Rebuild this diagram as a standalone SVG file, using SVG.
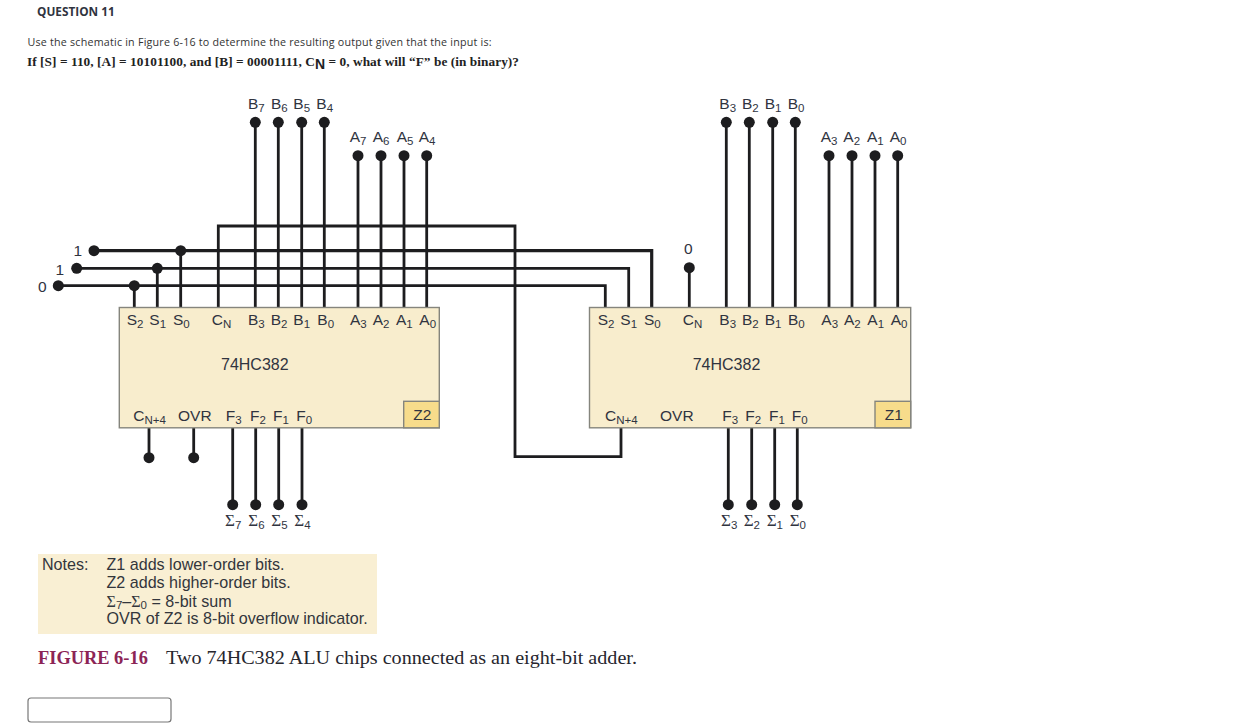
<svg xmlns="http://www.w3.org/2000/svg" width="1234" height="728" viewBox="0 0 1234 728">
<style>
text{font-family:"Liberation Sans",Arial,sans-serif;fill:#30343f}
.l{font-size:15.5px}
.s{font-size:11.5px}
.g{font-family:"Liberation Serif",serif;font-size:17px}
.w{fill:none;stroke:#1d1d1f;stroke-width:2.8}
.chip{fill:#f8edcd;stroke:#85857d;stroke-width:1.4}
.z{fill:#f7dc8b;stroke:#85857d;stroke-width:1.4}
.d{fill:#1d1d1f}
.n{font-size:16.1px;fill:#33363c}
</style>
<rect width="1234" height="728" fill="#fff"/>
<text x="37" y="16" style="font-family:'Open Sans',sans-serif;font-weight:700;font-size:11.8px" fill="#333">QUESTION 11</text>
<text x="27.5" y="46" textLength="464" style="font-family:'Open Sans',sans-serif;font-size:10.7px;fill:#333">Use the schematic in Figure 6-16 to determine the resulting output given that the input is:</text>
<text x="27" y="66" textLength="492" style="font-family:'Liberation Serif',serif;font-weight:700;font-size:13.3px;fill:#222">If [S] = 110, [A] = 10101100, and [B] = 00001111, C<tspan style="font-family:'Liberation Sans',sans-serif;font-size:14px" dy="3">N</tspan><tspan dy="-3"> = 0, what will “F” be (in binary)?</tspan></text>

<g id="connectors" class="w">
<path d="M255.3 122V307M278.3 122V307M301.7 122V307M324.3 122V307"/>
<path d="M358 156V307M381 156V307M404 156V307M426.7 156V307"/>
<path d="M726.3 122V307M749.3 122V307M772.7 122V307M795.3 122V307"/>
<path d="M829 156V307M852 156V307M875 156V307M897.7 156V307"/>
<path d="M689.3 268V307"/>
<path d="M94 250.7H651.7V307" style="stroke-width:3.2"/>
<path d="M76.7 268.3H628.7V307"/>
<path d="M58.3 285.7H605.3V307"/>
<path d="M134.3 285.7V307M157.3 268.3V307M180.7 250.7V307"/>
<path d="M218.3 307V226H515V456.7H621V428"/>
<path d="M149 428V457.7M193.7 428V457.7"/>
<path d="M232.7 428V504.7M255.7 428V504.7M278.7 428V504.7M302 428V504.7"/>
<path d="M728.3 428V504.7M751.7 428V504.7M774.7 428V504.7M797.3 428V504.7"/>
</g>

<g id="chip-z2">
<rect class="chip" x="119.3" y="307.5" width="320" height="120.3"/>
<rect class="z" x="403.7" y="401.3" width="35.6" height="26.5"/>
<text class="l" x="126.7" y="325">S<tspan class="s" dy="3">2</tspan></text>
<text class="l" x="149.3" y="325">S<tspan class="s" dy="3">1</tspan></text>
<text class="l" x="173" y="325">S<tspan class="s" dy="3">0</tspan></text>
<text class="l" x="211.7" y="325">C<tspan class="s" dy="3">N</tspan></text>
<text class="l" x="248" y="325">B<tspan class="s" dy="3">3</tspan></text>
<text class="l" x="270.7" y="325">B<tspan class="s" dy="3">2</tspan></text>
<text class="l" x="293.3" y="325">B<tspan class="s" dy="3">1</tspan></text>
<text class="l" x="317.3" y="325">B<tspan class="s" dy="3">0</tspan></text>
<text class="l" x="350" y="325">A<tspan class="s" dy="3">3</tspan></text>
<text class="l" x="372.7" y="325">A<tspan class="s" dy="3">2</tspan></text>
<text class="l" x="396" y="325">A<tspan class="s" dy="3">1</tspan></text>
<text class="l" x="419.3" y="325">A<tspan class="s" dy="3">0</tspan></text>
<text x="221" y="369.5" style="font-size:16px">74HC382</text>
<text class="l" x="133.3" y="420.5">C<tspan class="s" dy="3">N+4</tspan></text>
<text class="l" x="178" y="420.5">OVR</text>
<text class="l" x="225.7" y="420.5">F<tspan class="s" dy="3">3</tspan></text>
<text class="l" x="250" y="420.5">F<tspan class="s" dy="3">2</tspan></text>
<text class="l" x="273" y="420.5">F<tspan class="s" dy="3">1</tspan></text>
<text class="l" x="296.3" y="420.5">F<tspan class="s" dy="3">0</tspan></text>
<text class="l" x="413.3" y="419.5">Z2</text>
</g>

<g id="chip-z1">
<rect class="chip" x="589.5" y="307.5" width="321.2" height="120.3"/>
<rect class="z" x="875" y="401.3" width="35.7" height="26.5"/>
<text class="l" x="597.7" y="325">S<tspan class="s" dy="3">2</tspan></text>
<text class="l" x="620.3" y="325">S<tspan class="s" dy="3">1</tspan></text>
<text class="l" x="644" y="325">S<tspan class="s" dy="3">0</tspan></text>
<text class="l" x="682.7" y="325">C<tspan class="s" dy="3">N</tspan></text>
<text class="l" x="719.3" y="325">B<tspan class="s" dy="3">3</tspan></text>
<text class="l" x="742" y="325">B<tspan class="s" dy="3">2</tspan></text>
<text class="l" x="764.7" y="325">B<tspan class="s" dy="3">1</tspan></text>
<text class="l" x="788" y="325">B<tspan class="s" dy="3">0</tspan></text>
<text class="l" x="821.3" y="325">A<tspan class="s" dy="3">3</tspan></text>
<text class="l" x="844" y="325">A<tspan class="s" dy="3">2</tspan></text>
<text class="l" x="867.3" y="325">A<tspan class="s" dy="3">1</tspan></text>
<text class="l" x="890.7" y="325">A<tspan class="s" dy="3">0</tspan></text>
<text x="692.7" y="369.5" style="font-size:16px">74HC382</text>
<text class="l" x="605" y="420.5">C<tspan class="s" dy="3">N+4</tspan></text>
<text class="l" x="660" y="420.5">OVR</text>
<text class="l" x="722.3" y="420.5">F<tspan class="s" dy="3">3</tspan></text>
<text class="l" x="745.3" y="420.5">F<tspan class="s" dy="3">2</tspan></text>
<text class="l" x="769" y="420.5">F<tspan class="s" dy="3">1</tspan></text>
<text class="l" x="791.7" y="420.5">F<tspan class="s" dy="3">0</tspan></text>
<text class="l" x="884.7" y="419.5">Z1</text>
</g>

<g id="inputs-select">
<circle class="d" cx="94" cy="250.7" r="5.5"/><text class="l" x="73.5" y="256">1</text>
<circle class="d" cx="76.7" cy="268.3" r="5.5"/><text class="l" x="55.5" y="274.5">1</text>
<circle class="d" cx="58.3" cy="285.7" r="5.5"/><text class="l" x="38" y="291.5">0</text>
<circle class="d" cx="134.3" cy="285.7" r="5.5"/>
<circle class="d" cx="157.3" cy="268.3" r="5.5"/>
<circle class="d" cx="180.7" cy="250.7" r="5.5"/>
</g>
<g id="input-cn">
<circle class="d" cx="689.3" cy="267.7" r="5.5"/><text class="l" x="684" y="253.5">0</text>
</g>
<g id="inputs-b-high">
<circle class="d" cx="255.3" cy="122.3" r="5.5"/><circle class="d" cx="278.3" cy="122.3" r="5.5"/><circle class="d" cx="301.7" cy="122.3" r="5.5"/><circle class="d" cx="324.3" cy="122.3" r="5.5"/>
<text class="l" x="248" y="109">B<tspan class="s" dy="3">7</tspan></text>
<text class="l" x="271" y="109">B<tspan class="s" dy="3">6</tspan></text>
<text class="l" x="293.3" y="109">B<tspan class="s" dy="3">5</tspan></text>
<text class="l" x="316.3" y="109">B<tspan class="s" dy="3">4</tspan></text>
</g>
<g id="inputs-a-high">
<circle class="d" cx="358" cy="155.7" r="5.5"/><circle class="d" cx="381" cy="155.7" r="5.5"/><circle class="d" cx="404" cy="155.7" r="5.5"/><circle class="d" cx="426.7" cy="155.7" r="5.5"/>
<text class="l" x="349.7" y="142">A<tspan class="s" dy="3">7</tspan></text>
<text class="l" x="372.7" y="142">A<tspan class="s" dy="3">6</tspan></text>
<text class="l" x="396.7" y="142">A<tspan class="s" dy="3">5</tspan></text>
<text class="l" x="418.7" y="142">A<tspan class="s" dy="3">4</tspan></text>
</g>
<g id="inputs-b-low">
<circle class="d" cx="726.3" cy="122.3" r="5.5"/><circle class="d" cx="749.3" cy="122.3" r="5.5"/><circle class="d" cx="772.7" cy="122.3" r="5.5"/><circle class="d" cx="795.3" cy="122.3" r="5.5"/>
<text class="l" x="719.3" y="109">B<tspan class="s" dy="3">3</tspan></text>
<text class="l" x="742" y="109">B<tspan class="s" dy="3">2</tspan></text>
<text class="l" x="764.7" y="109">B<tspan class="s" dy="3">1</tspan></text>
<text class="l" x="787.7" y="109">B<tspan class="s" dy="3">0</tspan></text>
</g>
<g id="inputs-a-low">
<circle class="d" cx="829" cy="155.7" r="5.5"/><circle class="d" cx="852" cy="155.7" r="5.5"/><circle class="d" cx="875" cy="155.7" r="5.5"/><circle class="d" cx="897.7" cy="155.7" r="5.5"/>
<text class="l" x="820.7" y="142">A<tspan class="s" dy="3">3</tspan></text>
<text class="l" x="843.3" y="142">A<tspan class="s" dy="3">2</tspan></text>
<text class="l" x="867" y="142">A<tspan class="s" dy="3">1</tspan></text>
<text class="l" x="889.7" y="142">A<tspan class="s" dy="3">0</tspan></text>
</g>
<g id="outputs-z2-flags">
<circle class="d" cx="149" cy="457.7" r="5.5"/><circle class="d" cx="193.7" cy="457.7" r="5.5"/>
</g>
<g id="outputs-sum-high">
<circle class="d" cx="232.7" cy="504.7" r="5.5"/><circle class="d" cx="255.7" cy="504.7" r="5.5"/><circle class="d" cx="278.7" cy="504.7" r="5.5"/><circle class="d" cx="302" cy="504.7" r="5.5"/>
<text class="g" x="225" y="526">Σ<tspan class="s" style="font-family:'Liberation Sans',sans-serif" dy="2.5">7</tspan></text>
<text class="g" x="248.3" y="526">Σ<tspan class="s" style="font-family:'Liberation Sans',sans-serif" dy="2.5">6</tspan></text>
<text class="g" x="271.3" y="526">Σ<tspan class="s" style="font-family:'Liberation Sans',sans-serif" dy="2.5">5</tspan></text>
<text class="g" x="294.3" y="526">Σ<tspan class="s" style="font-family:'Liberation Sans',sans-serif" dy="2.5">4</tspan></text>
</g>
<g id="outputs-sum-low">
<circle class="d" cx="728.3" cy="504.7" r="5.5"/><circle class="d" cx="751.7" cy="504.7" r="5.5"/><circle class="d" cx="774.7" cy="504.7" r="5.5"/><circle class="d" cx="797.3" cy="504.7" r="5.5"/>
<text class="g" x="721" y="526">Σ<tspan class="s" style="font-family:'Liberation Sans',sans-serif" dy="2.5">3</tspan></text>
<text class="g" x="743.7" y="526">Σ<tspan class="s" style="font-family:'Liberation Sans',sans-serif" dy="2.5">2</tspan></text>
<text class="g" x="766.7" y="526">Σ<tspan class="s" style="font-family:'Liberation Sans',sans-serif" dy="2.5">1</tspan></text>
<text class="g" x="789.7" y="526">Σ<tspan class="s" style="font-family:'Liberation Sans',sans-serif" dy="2.5">0</tspan></text>
</g>

<g id="notes">
<rect x="38" y="554" width="339" height="80" fill="#f9efd3"/>
<text class="n" x="42" y="570">Notes:</text>
<text class="n" x="106.5" y="570">Z1 adds lower-order bits.</text>
<text class="n" x="106.5" y="588">Z2 adds higher-order bits.</text>
<text class="n" x="106.5" y="607"><tspan style="font-family:'Liberation Serif',serif">Σ</tspan><tspan class="s" dy="2">7</tspan><tspan dy="-2">–</tspan><tspan style="font-family:'Liberation Serif',serif">Σ</tspan><tspan class="s" dy="2">0</tspan><tspan dy="-2"> = 8-bit sum</tspan></text>
<text class="n" x="106.5" y="624">OVR of Z2 is 8-bit overflow indicator.</text>
</g>
<text x="38" y="664" style="font-family:'Liberation Serif',serif;font-weight:700;font-size:18.4px;fill:#8c2455">FIGURE 6-16</text>
<text x="166" y="664" textLength="471" lengthAdjust="spacingAndGlyphs" style="font-family:'Liberation Serif',serif;font-size:19.5px;fill:#26262e">Two 74HC382 ALU chips connected as an eight-bit adder.</text>
<rect x="28" y="698" width="143" height="24" rx="3" fill="#fff" stroke="#777" stroke-width="1.2"/>
</svg>
